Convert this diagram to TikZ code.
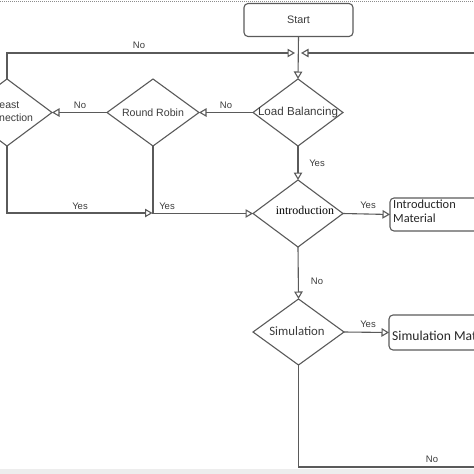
\documentclass[tikz,border=0pt]{standalone}
\usepackage{fontspec}
\setmainfont{Liberation Sans}
\newfontfamily\calfont{Carlito}
\newfontfamily\serfont{Liberation Serif}
\usetikzlibrary{shapes.geometric,arrows.meta}
\definecolor{ln}{HTML}{5A5A5A}
\definecolor{tx}{HTML}{3C3C3C}
\tikzset{
  dia/.style={shape=diamond,draw=ln,line width=1.1pt,minimum width=#1,minimum height=67pt,inner sep=0pt,outer sep=0pt},
  dia/.default=90pt,
  rbox/.style={draw=ln,line width=1.1pt,rounded corners=4pt,inner sep=0pt,outer sep=0pt,anchor=north west},
  conn/.style={draw=ln,line width=1.1pt,-{Triangle[open,length=7.5pt,width=8.5pt]}},
  plain/.style={draw=ln,line width=1.1pt},
  lab/.style={font=\fontsize{9.5}{11}\selectfont,text=tx,inner sep=0pt},
  dtext/.style={text=tx,inner sep=0pt,align=center},
}
\begin{document}
\begin{tikzpicture}[x=1pt,y=-1pt]
\useasboundingbox (0,0) rectangle (474,474);
\clip (0,0) rectangle (474,474);
% frame details
\fill[black!7] (0,469) rectangle (474,474);
\draw[black!45,line width=1pt,dash pattern=on 1pt off 1pt] (0,1.2) -- (474,1.2);
% nodes
\node[rbox,minimum width=109pt,minimum height=33pt] (start) at (244,3.5) {};
\node[dtext,font=\fontsize{10.8}{12}\selectfont] (startt) at (start.center) {Start};
\node[dia] (lb) at (298,112.5) {};
\node[dtext,font=\fontsize{11.6}{13}\selectfont] (lbt) at (lb.center) {Load Balancing};
\node[dia=92pt] (rr) at (153,112.5) {};
\node[dtext,font=\fontsize{10.6}{12}\selectfont] (rrt) at (rr.center) {Round Robin};
\node[dia] (lc) at (7,112.5) {};
\node[dtext,font=\fontsize{10.5}{13}\selectfont] (lct) at (6.5,111) {Least\\Connection};
\node[dia] (intro) at (298,213.5) {};
\node[dtext,font=\serfont\fontsize{11.9}{13}\selectfont,text=black] (introt) at (305,210) {introduction};
\node[dia=91pt,minimum height=66pt] (sim) at (298.5,332) {};
\node[dtext,font=\calfont\fontsize{12.8}{14}\selectfont] (simt) at (297,331) {Simulation};
\node[rbox,minimum width=110pt,minimum height=33pt] (im) at (390,198) {};
\node[text=black!85,font=\calfont\fontsize{12.4}{14}\selectfont,align=left,inner sep=0pt,anchor=north west] (imt) at (393,200) {Introduction\\Material};
\node[rbox,minimum width=130pt,minimum height=35pt] (sm) at (389,315) {};
\node[text=black!85,font=\calfont\fontsize{13.6}{15}\selectfont,inner sep=0pt,anchor=west] (smt) at (392,336) {Simulation Material};
% coordinates
\coordinate (jl) at (295,53);
\coordinate (jr) at (301,53);
\coordinate (tr) at (474,53);
\coordinate (yj) at (152.5,213);
\coordinate (br) at (474,467);
% connectors
\draw[conn] (start.south) -- (lb.north);
\draw[conn] (lc.north) |- (jl);
\draw[conn] (tr) -- (jr);
\draw[conn] (lb.west) -- (rr.east);
\draw[conn] (rr.west) -- (lc.east);
\draw[conn] (lc.south) |- (yj);
\draw[conn] (rr.south) |- (intro.west);
\draw[conn] (lb.south) -- (intro.north);
\draw[conn] (intro.east) -- (im.west);
\draw[conn] (intro.south) -- (sim.north);
\draw[conn] (sim.east) -- (sm.west);
\draw[plain] (sim.south) |- (br);
% labels
\node[lab] (l1) at (139,45) {No};
\node[lab] (l2) at (226,105) {No};
\node[lab] (l3) at (80,105) {No};
\node[lab] (l4) at (80,206) {Yes};
\node[lab] (l5) at (167,206) {Yes};
\node[lab] (l6) at (317,163) {Yes};
\node[lab] (l7) at (368,205) {Yes};
\node[lab] (l8) at (317,281) {No};
\node[lab] (l9) at (368,324) {Yes};
\node[lab] (l10) at (432,459) {No};
\end{tikzpicture}
\end{document}
